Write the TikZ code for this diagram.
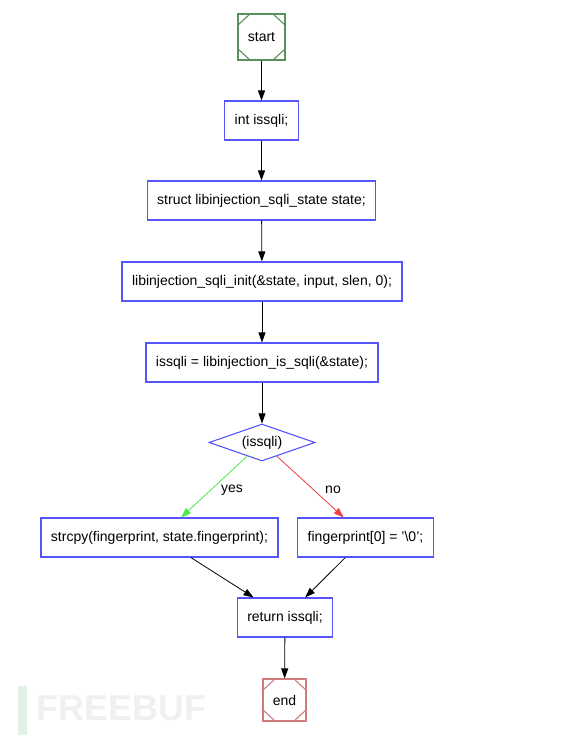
\documentclass[tikz,border=0pt]{standalone}
\usepackage{fontspec}
\setmainfont{Liberation Sans}
\usetikzlibrary{shapes.geometric,arrows.meta}
\definecolor{boxblue}{RGB}{85,85,250}
\definecolor{startgreen}{RGB}{90,145,90}
\definecolor{endred}{RGB}{205,125,125}
\definecolor{yesgreen}{RGB}{70,235,70}
\definecolor{nored}{RGB}{240,60,60}
\definecolor{markgreen}{RGB}{226,240,232}
\definecolor{markgray}{RGB}{240,240,240}

\begin{document}
\begin{tikzpicture}[x=1pt, y=-1pt, font=\fontsize{14}{17}\selectfont,
        stmt/.style={rectangle, draw=boxblue, line width=1.1pt, minimum height=39pt, inner xsep=10pt},
        cond/.style={diamond, draw=boxblue, line width=1.1pt, aspect=2.86, minimum width=106pt, minimum height=37pt, inner sep=0pt},
        msq/.style={rectangle, draw=#1, line width=1.1pt, inner sep=0pt,
            path picture={
                \draw[#1, line width=1.1pt] ([yshift=-11pt]path picture bounding box.north west) -- ([xshift=12pt]path picture bounding box.north west);
                \draw[#1, line width=1.1pt] ([yshift=-11pt]path picture bounding box.north east) -- ([xshift=-12pt]path picture bounding box.north east);
                \draw[#1, line width=1.1pt] ([yshift=11pt]path picture bounding box.south west) -- ([xshift=12pt]path picture bounding box.south west);
                \draw[#1, line width=1.1pt] ([yshift=11pt]path picture bounding box.south east) -- ([xshift=-12pt]path picture bounding box.south east);
            }},
        flow/.style={-{Triangle[length=10pt, width=7pt]}, line width=0.8pt}]
        \useasboundingbox (0,0) rectangle (568,735);

        % watermark
        \fill[markgreen] (18,686) rectangle (27,735);
        \node[anchor=west, inner sep=0pt, text=markgray, font=\bfseries\fontsize{36}{36}\selectfont] (mark) at (36,708) {FREEBUF};

        \node[msq=startgreen, minimum width=47pt, minimum height=46pt] (start) at (261.5,37) {start};
        \node[stmt] (decl) at (261.5,120.5) {int issqli;};
        \node[stmt] (state) at (261.5,200.5) {struct libinjection\_sqli\_state state;};
        \node[stmt] (init) at (262,281.5) {libinjection\_sqli\_init(\&state, input, slen, 0);};
        \node[stmt] (check) at (262,362.5) {issqli = libinjection\_is\_sqli(\&state);};
        \node[cond] (cond) at (262,442.5) {(issqli)};
        \node[stmt] (copy) at (159.5,537.5) {strcpy(fingerprint, state.fingerprint);};
        \node[stmt] (clear) at (365.5,537.5) {fingerprint[0] = '\textbackslash 0';};
        \node[stmt] (ret) at (285,617.5) {return issqli;};
        \node[msq=endred, minimum width=43pt, minimum height=42pt] (stop) at (284.5,700) {end};

        \node (yes) at (232,490) {yes};
        \node (no) at (333,490) {no};

        \draw[flow] (start) -- (decl);
        \draw[flow] (decl) -- (state);
        \draw[flow] (state) -- (init);
        \draw[flow] (init) -- (check);
        \draw[flow] (check) -- (cond);

        \draw[flow, yesgreen] (cond) -- (copy);
        \draw[flow, nored] (cond) -- (clear);
        \draw[flow] (copy) -- (ret);
        \draw[flow] (clear) -- (ret);
        \draw[flow] (ret) -- (stop);
\end{tikzpicture}
\end{document}
